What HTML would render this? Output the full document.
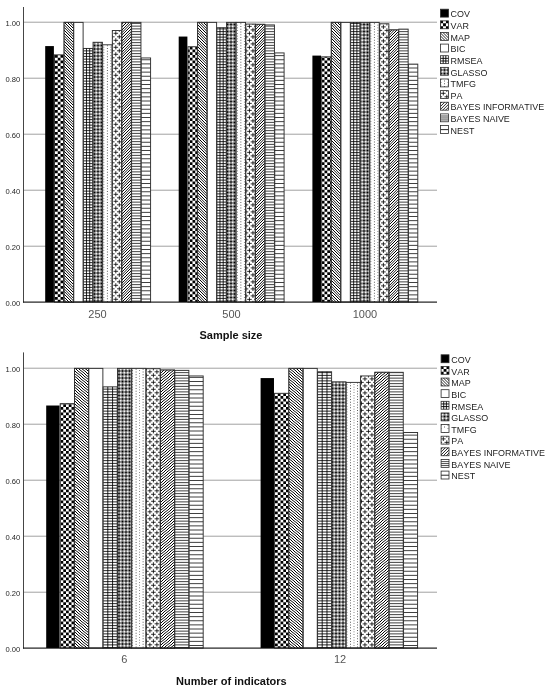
<!DOCTYPE html>
<html><head><meta charset="utf-8"><title>Chart</title><style>html,body{margin:0;padding:0;background:#fff}</style></head><body>
<svg width="550" height="693" viewBox="0 0 550 693" style="display:block;font-family:'Liberation Sans',Arial,sans-serif;font-kerning:none">
<defs>
<filter id="sharp_t" x="0" y="0" width="1" height="1" color-interpolation-filters="sRGB"><feConvolveMatrix order="3" kernelMatrix="0 -0.35 0 -0.35 2.4 -0.35 0 -0.35 0" preserveAlpha="true" edgeMode="duplicate"/></filter>
<filter id="sharp_b" x="0" y="0" width="1" height="1" color-interpolation-filters="sRGB"><feConvolveMatrix order="3" kernelMatrix="0 -0.2 0 -0.2 1.8 -0.2 0 -0.2 0" preserveAlpha="true" edgeMode="duplicate"/></filter>
<pattern id="var" width="11" height="11" patternUnits="userSpaceOnUse"><rect width="11" height="11" fill="#fff"/><rect x="0" y="0" width="2.75" height="2.75" fill="#000"/><rect x="0" y="5.5" width="2.75" height="2.75" fill="#000"/><rect x="2.75" y="2.75" width="2.75" height="2.75" fill="#000"/><rect x="2.75" y="8.25" width="2.75" height="2.75" fill="#000"/><rect x="5.5" y="0" width="2.75" height="2.75" fill="#000"/><rect x="5.5" y="5.5" width="2.75" height="2.75" fill="#000"/><rect x="8.25" y="2.75" width="2.75" height="2.75" fill="#000"/><rect x="8.25" y="8.25" width="2.75" height="2.75" fill="#000"/></pattern>
<pattern id="map" width="11" height="11" patternUnits="userSpaceOnUse"><rect width="11" height="11" fill="#fff"/><path d="M-1,-14.75 L12,-1.75 M-1,-12 L12,1 M-1,-9.25 L12,3.75 M-1,-6.5 L12,6.5 M-1,-3.75 L12,9.25 M-1,-1 L12,12 M-1,1.75 L12,14.75 M-1,4.5 L12,17.5 M-1,7.25 L12,20.25 M-1,10 L12,23 " stroke="#000" stroke-width="0.78" fill="none"/></pattern>
<pattern id="binf" width="11" height="11" patternUnits="userSpaceOnUse"><rect width="11" height="11" fill="#fff"/><path d="M-1,1 L12,-12 M-1,3.75 L12,-9.25 M-1,6.5 L12,-6.5 M-1,9.25 L12,-3.75 M-1,12 L12,-1 M-1,14.75 L12,1.75 M-1,17.5 L12,4.5 M-1,20.25 L12,7.25 M-1,23 L12,10 M-1,25.75 L12,12.75 " stroke="#000" stroke-width="0.78" fill="none"/></pattern>
<pattern id="rmsea" width="11" height="11" patternUnits="userSpaceOnUse"><rect width="11" height="11" fill="#fff"/><path d="M0,1.375 H11 M0,4.125 H11 M0,6.875 H11 M0,9.625 H11 " stroke="#000" stroke-width="0.85" fill="none"/></pattern>
<pattern id="rmseal" width="11" height="11" patternUnits="userSpaceOnUse"><rect width="11" height="11" fill="#fff"/><path d="M0,1.375 H11 M1.375,0 V11 M0,4.125 H11 M4.125,0 V11 M0,6.875 H11 M6.875,0 V11 M0,9.625 H11 M9.625,0 V11 " stroke="#000" stroke-width="0.85" fill="none"/></pattern>
<pattern id="glasso" width="7" height="7" patternUnits="userSpaceOnUse"><rect width="7" height="7" fill="#868686"/><path d="M0.000,-1.050 l1.050,1.050 l-1.050,1.050 l-1.050,-1.050 z M0.000,2.450 l1.050,1.050 l-1.050,1.050 l-1.050,-1.050 z M0.000,5.950 l1.050,1.050 l-1.050,1.050 l-1.050,-1.050 z M3.500,-1.050 l1.050,1.050 l-1.050,1.050 l-1.050,-1.050 z M3.500,2.450 l1.050,1.050 l-1.050,1.050 l-1.050,-1.050 z M3.500,5.950 l1.050,1.050 l-1.050,1.050 l-1.050,-1.050 z M7.000,-1.050 l1.050,1.050 l-1.050,1.050 l-1.050,-1.050 z M7.000,2.450 l1.050,1.050 l-1.050,1.050 l-1.050,-1.050 z M7.000,5.950 l1.050,1.050 l-1.050,1.050 l-1.050,-1.050 z " fill="#000"/><path d="M1.750,0.700 l1.050,1.050 l-1.050,1.050 l-1.050,-1.050 z M1.750,4.200 l1.050,1.050 l-1.050,1.050 l-1.050,-1.050 z M1.750,7.700 l1.050,1.050 l-1.050,1.050 l-1.050,-1.050 z M5.250,0.700 l1.050,1.050 l-1.050,1.050 l-1.050,-1.050 z M5.250,4.200 l1.050,1.050 l-1.050,1.050 l-1.050,-1.050 z M5.250,7.700 l1.050,1.050 l-1.050,1.050 l-1.050,-1.050 z M8.750,0.700 l1.050,1.050 l-1.050,1.050 l-1.050,-1.050 z M8.750,4.200 l1.050,1.050 l-1.050,1.050 l-1.050,-1.050 z M8.750,7.700 l1.050,1.050 l-1.050,1.050 l-1.050,-1.050 z " fill="#fff"/></pattern>
<pattern id="tmfg_t0" width="7" height="11" patternUnits="userSpaceOnUse"><rect width="7" height="11" fill="#fff"/><path d="M1.93,1.32 h0.85 v0.85 h-0.85 z M1.93,4.08 h0.85 v0.85 h-0.85 z M1.93,6.83 h0.85 v0.85 h-0.85 z M1.93,9.57 h0.85 v0.85 h-0.85 z M5.43,-0.05 h0.85 v0.85 h-0.85 z M5.43,2.70 h0.85 v0.85 h-0.85 z M5.43,5.45 h0.85 v0.85 h-0.85 z M5.43,8.20 h0.85 v0.85 h-0.85 z M5.43,10.95 h0.85 v0.85 h-0.85 z " fill="#444"/></pattern>
<pattern id="tmfg_t1" width="7" height="11" patternUnits="userSpaceOnUse"><rect width="7" height="11" fill="#fff"/><path d="M-1.06,-0.05 h0.85 v0.85 h-0.85 z M-1.06,2.70 h0.85 v0.85 h-0.85 z M-1.06,5.45 h0.85 v0.85 h-0.85 z M-1.06,8.20 h0.85 v0.85 h-0.85 z M-1.06,10.95 h0.85 v0.85 h-0.85 z M2.44,1.32 h0.85 v0.85 h-0.85 z M2.44,4.08 h0.85 v0.85 h-0.85 z M2.44,6.83 h0.85 v0.85 h-0.85 z M2.44,9.57 h0.85 v0.85 h-0.85 z M5.94,-0.05 h0.85 v0.85 h-0.85 z M5.94,2.70 h0.85 v0.85 h-0.85 z M5.94,5.45 h0.85 v0.85 h-0.85 z M5.94,8.20 h0.85 v0.85 h-0.85 z M5.94,10.95 h0.85 v0.85 h-0.85 z " fill="#444"/></pattern>
<pattern id="tmfg_t2" width="7" height="11" patternUnits="userSpaceOnUse"><rect width="7" height="11" fill="#fff"/><path d="M-0.56,-0.05 h0.85 v0.85 h-0.85 z M-0.56,2.70 h0.85 v0.85 h-0.85 z M-0.56,5.45 h0.85 v0.85 h-0.85 z M-0.56,8.20 h0.85 v0.85 h-0.85 z M-0.56,10.95 h0.85 v0.85 h-0.85 z M2.94,1.32 h0.85 v0.85 h-0.85 z M2.94,4.08 h0.85 v0.85 h-0.85 z M2.94,6.83 h0.85 v0.85 h-0.85 z M2.94,9.57 h0.85 v0.85 h-0.85 z M6.44,-0.05 h0.85 v0.85 h-0.85 z M6.44,2.70 h0.85 v0.85 h-0.85 z M6.44,5.45 h0.85 v0.85 h-0.85 z M6.44,8.20 h0.85 v0.85 h-0.85 z M6.44,10.95 h0.85 v0.85 h-0.85 z " fill="#444"/></pattern>
<pattern id="tmfg_b0" width="7" height="11" patternUnits="userSpaceOnUse"><rect width="7" height="11" fill="#fff"/><path d="M-0.83,-1.03 h0.85 v0.85 h-0.85 z M-0.83,1.72 h0.85 v0.85 h-0.85 z M-0.83,4.47 h0.85 v0.85 h-0.85 z M-0.83,7.22 h0.85 v0.85 h-0.85 z M-0.83,9.97 h0.85 v0.85 h-0.85 z M2.67,0.35 h0.85 v0.85 h-0.85 z M2.67,3.10 h0.85 v0.85 h-0.85 z M2.67,5.85 h0.85 v0.85 h-0.85 z M2.67,8.60 h0.85 v0.85 h-0.85 z M2.67,11.35 h0.85 v0.85 h-0.85 z M6.17,-1.03 h0.85 v0.85 h-0.85 z M6.17,1.72 h0.85 v0.85 h-0.85 z M6.17,4.47 h0.85 v0.85 h-0.85 z M6.17,7.22 h0.85 v0.85 h-0.85 z M6.17,9.97 h0.85 v0.85 h-0.85 z " fill="#444"/></pattern>
<pattern id="tmfg_b1" width="7" height="11" patternUnits="userSpaceOnUse"><rect width="7" height="11" fill="#fff"/><path d="M0.08,0.35 h0.85 v0.85 h-0.85 z M0.08,3.10 h0.85 v0.85 h-0.85 z M0.08,5.85 h0.85 v0.85 h-0.85 z M0.08,8.60 h0.85 v0.85 h-0.85 z M0.08,11.35 h0.85 v0.85 h-0.85 z M3.58,-1.03 h0.85 v0.85 h-0.85 z M3.58,1.72 h0.85 v0.85 h-0.85 z M3.58,4.47 h0.85 v0.85 h-0.85 z M3.58,7.22 h0.85 v0.85 h-0.85 z M3.58,9.97 h0.85 v0.85 h-0.85 z M7.08,0.35 h0.85 v0.85 h-0.85 z M7.08,3.10 h0.85 v0.85 h-0.85 z M7.08,5.85 h0.85 v0.85 h-0.85 z M7.08,8.60 h0.85 v0.85 h-0.85 z M7.08,11.35 h0.85 v0.85 h-0.85 z " fill="#444"/></pattern>
<pattern id="tmfg_tL" width="7" height="11" patternUnits="userSpaceOnUse"><rect width="7" height="11" fill="#fff"/><path d="M-0.42,-0.55 h0.85 v0.85 h-0.85 z M-0.42,2.20 h0.85 v0.85 h-0.85 z M-0.42,4.95 h0.85 v0.85 h-0.85 z M-0.42,7.70 h0.85 v0.85 h-0.85 z M-0.42,10.45 h0.85 v0.85 h-0.85 z M3.08,0.82 h0.85 v0.85 h-0.85 z M3.08,3.58 h0.85 v0.85 h-0.85 z M3.08,6.33 h0.85 v0.85 h-0.85 z M3.08,9.07 h0.85 v0.85 h-0.85 z M6.58,-0.55 h0.85 v0.85 h-0.85 z M6.58,2.20 h0.85 v0.85 h-0.85 z M6.58,4.95 h0.85 v0.85 h-0.85 z M6.58,7.70 h0.85 v0.85 h-0.85 z M6.58,10.45 h0.85 v0.85 h-0.85 z " fill="#444"/></pattern>
<pattern id="tmfg_bL" width="7" height="11" patternUnits="userSpaceOnUse"><rect width="7" height="11" fill="#fff"/><path d="M-0.42,4.45 h0.85 v0.85 h-0.85 z M-0.42,7.20 h0.85 v0.85 h-0.85 z M-0.42,9.95 h0.85 v0.85 h-0.85 z M3.08,3.08 h0.85 v0.85 h-0.85 z M3.08,5.83 h0.85 v0.85 h-0.85 z M3.08,8.57 h0.85 v0.85 h-0.85 z M3.08,11.32 h0.85 v0.85 h-0.85 z M6.58,4.45 h0.85 v0.85 h-0.85 z M6.58,7.20 h0.85 v0.85 h-0.85 z M6.58,9.95 h0.85 v0.85 h-0.85 z " fill="#444"/></pattern>
<pattern id="pa_t0" width="7" height="7" patternUnits="userSpaceOnUse"><rect width="7" height="7" fill="#fff"/><path d="M-2.00,1.80 h4.60 M0.30,-0.30 v4.20 M-2.00,8.80 h4.60 M0.30,6.70 v4.20 M1.50,-1.70 h4.60 M3.80,-3.80 v4.20 M5.00,1.80 h4.60 M7.30,-0.30 v4.20 M1.50,5.30 h4.60 M3.80,3.20 v4.20 M5.00,8.80 h4.60 M7.30,6.70 v4.20 " stroke="#000" stroke-width="0.8" fill="none"/></pattern>
<pattern id="pa_t1" width="7" height="7" patternUnits="userSpaceOnUse"><rect width="7" height="7" fill="#fff"/><path d="M-4.85,-1.60 h4.60 M-2.55,-3.70 v4.20 M-1.35,1.90 h4.60 M0.95,-0.20 v4.20 M-4.85,5.40 h4.60 M-2.55,3.30 v4.20 M-1.35,8.90 h4.60 M0.95,6.80 v4.20 M2.15,-1.60 h4.60 M4.45,-3.70 v4.20 M5.65,1.90 h4.60 M7.95,-0.20 v4.20 M2.15,5.40 h4.60 M4.45,3.30 v4.20 M5.65,8.90 h4.60 M7.95,6.80 v4.20 " stroke="#000" stroke-width="0.8" fill="none"/></pattern>
<pattern id="pa_t2" width="7" height="7" patternUnits="userSpaceOnUse"><rect width="7" height="7" fill="#fff"/><path d="M-3.90,-1.10 h4.60 M-1.60,-3.20 v4.20 M-0.40,2.40 h4.60 M1.90,0.30 v4.20 M-3.90,5.90 h4.60 M-1.60,3.80 v4.20 M-0.40,9.40 h4.60 M1.90,7.30 v4.20 M3.10,-1.10 h4.60 M5.40,-3.20 v4.20 M6.60,2.40 h4.60 M8.90,0.30 v4.20 M3.10,5.90 h4.60 M5.40,3.80 v4.20 M6.60,9.40 h4.60 M8.90,7.30 v4.20 " stroke="#000" stroke-width="0.8" fill="none"/></pattern>
<pattern id="pa_b0" width="7" height="7" patternUnits="userSpaceOnUse"><rect width="7" height="7" fill="#fff"/><path d="M-2.90,-2.70 h4.60 M-0.60,-4.80 v4.20 M0.60,0.80 h4.60 M2.90,-1.30 v4.20 M-2.90,4.30 h4.60 M-0.60,2.20 v4.20 M0.60,7.80 h4.60 M2.90,5.70 v4.20 M4.10,-2.70 h4.60 M6.40,-4.80 v4.20 M7.60,0.80 h4.60 M9.90,-1.30 v4.20 M4.10,4.30 h4.60 M6.40,2.20 v4.20 M7.60,7.80 h4.60 M9.90,5.70 v4.20 " stroke="#000" stroke-width="0.8" fill="none"/></pattern>
<pattern id="pa_b1" width="7" height="7" patternUnits="userSpaceOnUse"><rect width="7" height="7" fill="#fff"/><path d="M-4.85,-2.60 h4.60 M-2.55,-4.70 v4.20 M-1.35,0.90 h4.60 M0.95,-1.20 v4.20 M-4.85,4.40 h4.60 M-2.55,2.30 v4.20 M-1.35,7.90 h4.60 M0.95,5.80 v4.20 M2.15,-2.60 h4.60 M4.45,-4.70 v4.20 M5.65,0.90 h4.60 M7.95,-1.20 v4.20 M2.15,4.40 h4.60 M4.45,2.30 v4.20 M5.65,7.90 h4.60 M7.95,5.80 v4.20 " stroke="#000" stroke-width="0.8" fill="none"/></pattern>
<pattern id="pa_tL" width="7" height="7" patternUnits="userSpaceOnUse"><rect width="7" height="7" fill="#fff"/><path d="M-3.50,-1.20 h4.60 M-1.20,-3.30 v4.20 M-3.50,5.80 h4.60 M-1.20,3.70 v4.20 M3.50,-1.20 h4.60 M5.80,-3.30 v4.20 M0.00,2.30 h4.60 M2.30,0.20 v4.20 M3.50,5.80 h4.60 M5.80,3.70 v4.20 M0.00,9.30 h4.60 M2.30,7.20 v4.20 M7.00,2.30 h4.60 M9.30,0.20 v4.20 M7.00,9.30 h4.60 M9.30,7.20 v4.20 " stroke="#000" stroke-width="0.8" fill="none"/></pattern>
<pattern id="pa_bL" width="7" height="7" patternUnits="userSpaceOnUse"><rect width="7" height="7" fill="#fff"/><path d="M-3.50,1.40 h4.60 M-1.20,-0.70 v4.20 M-3.50,8.40 h4.60 M-1.20,6.30 v4.20 M0.00,-2.10 h4.60 M2.30,-4.20 v4.20 M3.50,1.40 h4.60 M5.80,-0.70 v4.20 M0.00,4.90 h4.60 M2.30,2.80 v4.20 M3.50,8.40 h4.60 M5.80,6.30 v4.20 M7.00,-2.10 h4.60 M9.30,-4.20 v4.20 M7.00,4.90 h4.60 M9.30,2.80 v4.20 " stroke="#000" stroke-width="0.8" fill="none"/></pattern>
<pattern id="bnaive" width="11" height="11" patternUnits="userSpaceOnUse"><rect width="11" height="11" fill="#fff"/><path d="M0,1.375 H11 M0,4.125 H11 M0,6.875 H11 M0,9.625 H11 " stroke="#000" stroke-width="0.75" fill="none"/></pattern>
<pattern id="nest" width="33" height="33" patternUnits="userSpaceOnUse"><rect width="33" height="33" fill="#fff"/><path d="M0,2 H33 M0,6.125 H33 M0,10.25 H33 M0,14.375 H33 M0,18.5 H33 M0,22.625 H33 M0,26.75 H33 M0,30.875 H33 " stroke="#000" stroke-width="0.75" fill="none"/></pattern>
</defs>
<rect width="550" height="693" fill="#fff"/>
<rect x="23.50" y="245.70" width="413.50" height="1" fill="#a2a2a2"/>
<rect x="23.50" y="189.70" width="413.50" height="1" fill="#a2a2a2"/>
<rect x="23.50" y="133.70" width="413.50" height="1" fill="#a2a2a2"/>
<rect x="23.50" y="77.70" width="413.50" height="1" fill="#a2a2a2"/>
<rect x="23.50" y="21.70" width="413.50" height="1" fill="#a2a2a2"/>
<rect x="45.20" y="46.08" width="8.69" height="255.92" fill="#000"/>
<rect x="54.49" y="54.88" width="9.34" height="247.12" fill="url(#var)" stroke="#303030" stroke-width="0.95"/>
<rect x="64.13" y="22.40" width="9.34" height="279.60" fill="#fff" stroke="#303030" stroke-width="0.95"/>
<clipPath id="c_t02"><rect x="64.13" y="22.40" width="9.34" height="279.60"/></clipPath>
<g clip-path="url(#c_t02)"><g filter="url(#sharp_t)"><rect x="61.98" y="20.00" width="13.64" height="284.00" fill="#fff"/><path d="M63.98,316.00 l9.64,9.82 M63.98,313.25 l9.64,9.82 M63.98,310.50 l9.64,9.82 M63.98,307.75 l9.64,9.82 M63.98,305.00 l9.64,9.82 M63.98,302.25 l9.64,9.82 M63.98,299.50 l9.64,9.82 M63.98,296.75 l9.64,9.82 M63.98,294.00 l9.64,9.82 M63.98,291.25 l9.64,9.82 M63.98,288.50 l9.64,9.82 M63.98,285.75 l9.64,9.82 M63.98,283.00 l9.64,9.82 M63.98,280.25 l9.64,9.82 M63.98,277.50 l9.64,9.82 M63.98,274.75 l9.64,9.82 M63.98,272.00 l9.64,9.82 M63.98,269.25 l9.64,9.82 M63.98,266.50 l9.64,9.82 M63.98,263.75 l9.64,9.82 M63.98,261.00 l9.64,9.82 M63.98,258.25 l9.64,9.82 M63.98,255.50 l9.64,9.82 M63.98,252.75 l9.64,9.82 M63.98,250.00 l9.64,9.82 M63.98,247.25 l9.64,9.82 M63.98,244.50 l9.64,9.82 M63.98,241.75 l9.64,9.82 M63.98,239.00 l9.64,9.82 M63.98,236.25 l9.64,9.82 M63.98,233.50 l9.64,9.82 M63.98,230.75 l9.64,9.82 M63.98,228.00 l9.64,9.82 M63.98,225.25 l9.64,9.82 M63.98,222.50 l9.64,9.82 M63.98,219.75 l9.64,9.82 M63.98,217.00 l9.64,9.82 M63.98,214.25 l9.64,9.82 M63.98,211.50 l9.64,9.82 M63.98,208.75 l9.64,9.82 M63.98,206.00 l9.64,9.82 M63.98,203.25 l9.64,9.82 M63.98,200.50 l9.64,9.82 M63.98,197.75 l9.64,9.82 M63.98,195.00 l9.64,9.82 M63.98,192.25 l9.64,9.82 M63.98,189.50 l9.64,9.82 M63.98,186.75 l9.64,9.82 M63.98,184.00 l9.64,9.82 M63.98,181.25 l9.64,9.82 M63.98,178.50 l9.64,9.82 M63.98,175.75 l9.64,9.82 M63.98,173.00 l9.64,9.82 M63.98,170.25 l9.64,9.82 M63.98,167.50 l9.64,9.82 M63.98,164.75 l9.64,9.82 M63.98,162.00 l9.64,9.82 M63.98,159.25 l9.64,9.82 M63.98,156.50 l9.64,9.82 M63.98,153.75 l9.64,9.82 M63.98,151.00 l9.64,9.82 M63.98,148.25 l9.64,9.82 M63.98,145.50 l9.64,9.82 M63.98,142.75 l9.64,9.82 M63.98,140.00 l9.64,9.82 M63.98,137.25 l9.64,9.82 M63.98,134.50 l9.64,9.82 M63.98,131.75 l9.64,9.82 M63.98,129.00 l9.64,9.82 M63.98,126.25 l9.64,9.82 M63.98,123.50 l9.64,9.82 M63.98,120.75 l9.64,9.82 M63.98,118.00 l9.64,9.82 M63.98,115.25 l9.64,9.82 M63.98,112.50 l9.64,9.82 M63.98,109.75 l9.64,9.82 M63.98,107.00 l9.64,9.82 M63.98,104.25 l9.64,9.82 M63.98,101.50 l9.64,9.82 M63.98,98.75 l9.64,9.82 M63.98,96.00 l9.64,9.82 M63.98,93.25 l9.64,9.82 M63.98,90.50 l9.64,9.82 M63.98,87.75 l9.64,9.82 M63.98,85.00 l9.64,9.82 M63.98,82.25 l9.64,9.82 M63.98,79.50 l9.64,9.82 M63.98,76.75 l9.64,9.82 M63.98,74.00 l9.64,9.82 M63.98,71.25 l9.64,9.82 M63.98,68.50 l9.64,9.82 M63.98,65.75 l9.64,9.82 M63.98,63.00 l9.64,9.82 M63.98,60.25 l9.64,9.82 M63.98,57.50 l9.64,9.82 M63.98,54.75 l9.64,9.82 M63.98,52.00 l9.64,9.82 M63.98,49.25 l9.64,9.82 M63.98,46.50 l9.64,9.82 M63.98,43.75 l9.64,9.82 M63.98,41.00 l9.64,9.82 M63.98,38.25 l9.64,9.82 M63.98,35.50 l9.64,9.82 M63.98,32.75 l9.64,9.82 M63.98,30.00 l9.64,9.82 M63.98,27.25 l9.64,9.82 M63.98,24.50 l9.64,9.82 M63.98,21.75 l9.64,9.82 M63.98,19.00 l9.64,9.82 M63.98,16.25 l9.64,9.82 M63.98,13.50 l9.64,9.82 M63.98,10.75 l9.64,9.82 " stroke="#000" stroke-width="0.55" fill="none"/></g></g>
<rect x="64.13" y="22.40" width="9.34" height="279.60" fill="none" stroke="#303030" stroke-width="0.95"/>
<rect x="73.77" y="22.40" width="9.34" height="279.60" fill="#fff" stroke="#303030" stroke-width="0.95"/>
<rect x="83.41" y="48.44" width="9.34" height="253.56" fill="url(#rmsea)" stroke="#303030" stroke-width="0.95"/>
<path d="M86.47,48.44 V302.00 M89.69,48.44 V302.00" stroke="#000" stroke-width="0.85"/>
<rect x="93.05" y="42.28" width="9.34" height="259.72" fill="url(#glasso)" stroke="#303030" stroke-width="0.95"/>
<rect x="102.69" y="44.80" width="9.34" height="257.20" fill="url(#tmfg_t0)" stroke="#303030" stroke-width="0.95"/>
<rect x="112.33" y="30.52" width="9.34" height="271.48" fill="url(#pa_t0)" stroke="#303030" stroke-width="0.95"/>
<rect x="121.97" y="22.40" width="9.34" height="279.60" fill="#fff" stroke="#303030" stroke-width="0.95"/>
<clipPath id="c_t08"><rect x="121.97" y="22.40" width="9.34" height="279.60"/></clipPath>
<g clip-path="url(#c_t08)"><g filter="url(#sharp_t)"><rect x="119.82" y="20.00" width="13.64" height="284.00" fill="#fff"/><path d="M121.82,316.00 l9.64,-9.82 M121.82,313.25 l9.64,-9.82 M121.82,310.50 l9.64,-9.82 M121.82,307.75 l9.64,-9.82 M121.82,305.00 l9.64,-9.82 M121.82,302.25 l9.64,-9.82 M121.82,299.50 l9.64,-9.82 M121.82,296.75 l9.64,-9.82 M121.82,294.00 l9.64,-9.82 M121.82,291.25 l9.64,-9.82 M121.82,288.50 l9.64,-9.82 M121.82,285.75 l9.64,-9.82 M121.82,283.00 l9.64,-9.82 M121.82,280.25 l9.64,-9.82 M121.82,277.50 l9.64,-9.82 M121.82,274.75 l9.64,-9.82 M121.82,272.00 l9.64,-9.82 M121.82,269.25 l9.64,-9.82 M121.82,266.50 l9.64,-9.82 M121.82,263.75 l9.64,-9.82 M121.82,261.00 l9.64,-9.82 M121.82,258.25 l9.64,-9.82 M121.82,255.50 l9.64,-9.82 M121.82,252.75 l9.64,-9.82 M121.82,250.00 l9.64,-9.82 M121.82,247.25 l9.64,-9.82 M121.82,244.50 l9.64,-9.82 M121.82,241.75 l9.64,-9.82 M121.82,239.00 l9.64,-9.82 M121.82,236.25 l9.64,-9.82 M121.82,233.50 l9.64,-9.82 M121.82,230.75 l9.64,-9.82 M121.82,228.00 l9.64,-9.82 M121.82,225.25 l9.64,-9.82 M121.82,222.50 l9.64,-9.82 M121.82,219.75 l9.64,-9.82 M121.82,217.00 l9.64,-9.82 M121.82,214.25 l9.64,-9.82 M121.82,211.50 l9.64,-9.82 M121.82,208.75 l9.64,-9.82 M121.82,206.00 l9.64,-9.82 M121.82,203.25 l9.64,-9.82 M121.82,200.50 l9.64,-9.82 M121.82,197.75 l9.64,-9.82 M121.82,195.00 l9.64,-9.82 M121.82,192.25 l9.64,-9.82 M121.82,189.50 l9.64,-9.82 M121.82,186.75 l9.64,-9.82 M121.82,184.00 l9.64,-9.82 M121.82,181.25 l9.64,-9.82 M121.82,178.50 l9.64,-9.82 M121.82,175.75 l9.64,-9.82 M121.82,173.00 l9.64,-9.82 M121.82,170.25 l9.64,-9.82 M121.82,167.50 l9.64,-9.82 M121.82,164.75 l9.64,-9.82 M121.82,162.00 l9.64,-9.82 M121.82,159.25 l9.64,-9.82 M121.82,156.50 l9.64,-9.82 M121.82,153.75 l9.64,-9.82 M121.82,151.00 l9.64,-9.82 M121.82,148.25 l9.64,-9.82 M121.82,145.50 l9.64,-9.82 M121.82,142.75 l9.64,-9.82 M121.82,140.00 l9.64,-9.82 M121.82,137.25 l9.64,-9.82 M121.82,134.50 l9.64,-9.82 M121.82,131.75 l9.64,-9.82 M121.82,129.00 l9.64,-9.82 M121.82,126.25 l9.64,-9.82 M121.82,123.50 l9.64,-9.82 M121.82,120.75 l9.64,-9.82 M121.82,118.00 l9.64,-9.82 M121.82,115.25 l9.64,-9.82 M121.82,112.50 l9.64,-9.82 M121.82,109.75 l9.64,-9.82 M121.82,107.00 l9.64,-9.82 M121.82,104.25 l9.64,-9.82 M121.82,101.50 l9.64,-9.82 M121.82,98.75 l9.64,-9.82 M121.82,96.00 l9.64,-9.82 M121.82,93.25 l9.64,-9.82 M121.82,90.50 l9.64,-9.82 M121.82,87.75 l9.64,-9.82 M121.82,85.00 l9.64,-9.82 M121.82,82.25 l9.64,-9.82 M121.82,79.50 l9.64,-9.82 M121.82,76.75 l9.64,-9.82 M121.82,74.00 l9.64,-9.82 M121.82,71.25 l9.64,-9.82 M121.82,68.50 l9.64,-9.82 M121.82,65.75 l9.64,-9.82 M121.82,63.00 l9.64,-9.82 M121.82,60.25 l9.64,-9.82 M121.82,57.50 l9.64,-9.82 M121.82,54.75 l9.64,-9.82 M121.82,52.00 l9.64,-9.82 M121.82,49.25 l9.64,-9.82 M121.82,46.50 l9.64,-9.82 M121.82,43.75 l9.64,-9.82 M121.82,41.00 l9.64,-9.82 M121.82,38.25 l9.64,-9.82 M121.82,35.50 l9.64,-9.82 M121.82,32.75 l9.64,-9.82 M121.82,30.00 l9.64,-9.82 M121.82,27.25 l9.64,-9.82 M121.82,24.50 l9.64,-9.82 M121.82,21.75 l9.64,-9.82 M121.82,19.00 l9.64,-9.82 M121.82,16.25 l9.64,-9.82 M121.82,13.50 l9.64,-9.82 M121.82,10.75 l9.64,-9.82 " stroke="#000" stroke-width="0.55" fill="none"/></g></g>
<rect x="121.97" y="22.40" width="9.34" height="279.60" fill="none" stroke="#303030" stroke-width="0.95"/>
<rect x="131.61" y="22.40" width="9.34" height="279.60" fill="url(#bnaive)" stroke="#303030" stroke-width="0.95"/>
<rect x="141.25" y="57.96" width="9.34" height="244.04" fill="url(#nest)" stroke="#303030" stroke-width="0.95"/>
<rect x="178.70" y="36.56" width="8.69" height="265.44" fill="#000"/>
<rect x="187.99" y="46.76" width="9.34" height="255.24" fill="url(#var)" stroke="#303030" stroke-width="0.95"/>
<rect x="197.63" y="22.40" width="9.34" height="279.60" fill="#fff" stroke="#303030" stroke-width="0.95"/>
<clipPath id="c_t12"><rect x="197.63" y="22.40" width="9.34" height="279.60"/></clipPath>
<g clip-path="url(#c_t12)"><g filter="url(#sharp_t)"><rect x="195.48" y="20.00" width="13.64" height="284.00" fill="#fff"/><path d="M197.48,316.00 l9.64,9.82 M197.48,313.25 l9.64,9.82 M197.48,310.50 l9.64,9.82 M197.48,307.75 l9.64,9.82 M197.48,305.00 l9.64,9.82 M197.48,302.25 l9.64,9.82 M197.48,299.50 l9.64,9.82 M197.48,296.75 l9.64,9.82 M197.48,294.00 l9.64,9.82 M197.48,291.25 l9.64,9.82 M197.48,288.50 l9.64,9.82 M197.48,285.75 l9.64,9.82 M197.48,283.00 l9.64,9.82 M197.48,280.25 l9.64,9.82 M197.48,277.50 l9.64,9.82 M197.48,274.75 l9.64,9.82 M197.48,272.00 l9.64,9.82 M197.48,269.25 l9.64,9.82 M197.48,266.50 l9.64,9.82 M197.48,263.75 l9.64,9.82 M197.48,261.00 l9.64,9.82 M197.48,258.25 l9.64,9.82 M197.48,255.50 l9.64,9.82 M197.48,252.75 l9.64,9.82 M197.48,250.00 l9.64,9.82 M197.48,247.25 l9.64,9.82 M197.48,244.50 l9.64,9.82 M197.48,241.75 l9.64,9.82 M197.48,239.00 l9.64,9.82 M197.48,236.25 l9.64,9.82 M197.48,233.50 l9.64,9.82 M197.48,230.75 l9.64,9.82 M197.48,228.00 l9.64,9.82 M197.48,225.25 l9.64,9.82 M197.48,222.50 l9.64,9.82 M197.48,219.75 l9.64,9.82 M197.48,217.00 l9.64,9.82 M197.48,214.25 l9.64,9.82 M197.48,211.50 l9.64,9.82 M197.48,208.75 l9.64,9.82 M197.48,206.00 l9.64,9.82 M197.48,203.25 l9.64,9.82 M197.48,200.50 l9.64,9.82 M197.48,197.75 l9.64,9.82 M197.48,195.00 l9.64,9.82 M197.48,192.25 l9.64,9.82 M197.48,189.50 l9.64,9.82 M197.48,186.75 l9.64,9.82 M197.48,184.00 l9.64,9.82 M197.48,181.25 l9.64,9.82 M197.48,178.50 l9.64,9.82 M197.48,175.75 l9.64,9.82 M197.48,173.00 l9.64,9.82 M197.48,170.25 l9.64,9.82 M197.48,167.50 l9.64,9.82 M197.48,164.75 l9.64,9.82 M197.48,162.00 l9.64,9.82 M197.48,159.25 l9.64,9.82 M197.48,156.50 l9.64,9.82 M197.48,153.75 l9.64,9.82 M197.48,151.00 l9.64,9.82 M197.48,148.25 l9.64,9.82 M197.48,145.50 l9.64,9.82 M197.48,142.75 l9.64,9.82 M197.48,140.00 l9.64,9.82 M197.48,137.25 l9.64,9.82 M197.48,134.50 l9.64,9.82 M197.48,131.75 l9.64,9.82 M197.48,129.00 l9.64,9.82 M197.48,126.25 l9.64,9.82 M197.48,123.50 l9.64,9.82 M197.48,120.75 l9.64,9.82 M197.48,118.00 l9.64,9.82 M197.48,115.25 l9.64,9.82 M197.48,112.50 l9.64,9.82 M197.48,109.75 l9.64,9.82 M197.48,107.00 l9.64,9.82 M197.48,104.25 l9.64,9.82 M197.48,101.50 l9.64,9.82 M197.48,98.75 l9.64,9.82 M197.48,96.00 l9.64,9.82 M197.48,93.25 l9.64,9.82 M197.48,90.50 l9.64,9.82 M197.48,87.75 l9.64,9.82 M197.48,85.00 l9.64,9.82 M197.48,82.25 l9.64,9.82 M197.48,79.50 l9.64,9.82 M197.48,76.75 l9.64,9.82 M197.48,74.00 l9.64,9.82 M197.48,71.25 l9.64,9.82 M197.48,68.50 l9.64,9.82 M197.48,65.75 l9.64,9.82 M197.48,63.00 l9.64,9.82 M197.48,60.25 l9.64,9.82 M197.48,57.50 l9.64,9.82 M197.48,54.75 l9.64,9.82 M197.48,52.00 l9.64,9.82 M197.48,49.25 l9.64,9.82 M197.48,46.50 l9.64,9.82 M197.48,43.75 l9.64,9.82 M197.48,41.00 l9.64,9.82 M197.48,38.25 l9.64,9.82 M197.48,35.50 l9.64,9.82 M197.48,32.75 l9.64,9.82 M197.48,30.00 l9.64,9.82 M197.48,27.25 l9.64,9.82 M197.48,24.50 l9.64,9.82 M197.48,21.75 l9.64,9.82 M197.48,19.00 l9.64,9.82 M197.48,16.25 l9.64,9.82 M197.48,13.50 l9.64,9.82 M197.48,10.75 l9.64,9.82 " stroke="#000" stroke-width="0.55" fill="none"/></g></g>
<rect x="197.63" y="22.40" width="9.34" height="279.60" fill="none" stroke="#303030" stroke-width="0.95"/>
<rect x="207.27" y="22.40" width="9.34" height="279.60" fill="#fff" stroke="#303030" stroke-width="0.95"/>
<rect x="216.91" y="27.72" width="9.34" height="274.28" fill="url(#rmsea)" stroke="#303030" stroke-width="0.95"/>
<path d="M219.97,27.72 V302.00 M223.19,27.72 V302.00" stroke="#000" stroke-width="0.85"/>
<rect x="226.55" y="22.40" width="9.34" height="279.60" fill="url(#glasso)" stroke="#303030" stroke-width="0.95"/>
<rect x="236.19" y="22.40" width="9.34" height="279.60" fill="url(#tmfg_t1)" stroke="#303030" stroke-width="0.95"/>
<rect x="245.83" y="24.08" width="9.34" height="277.92" fill="url(#pa_t1)" stroke="#303030" stroke-width="0.95"/>
<rect x="255.47" y="24.36" width="9.34" height="277.64" fill="#fff" stroke="#303030" stroke-width="0.95"/>
<clipPath id="c_t18"><rect x="255.47" y="24.36" width="9.34" height="277.64"/></clipPath>
<g clip-path="url(#c_t18)"><g filter="url(#sharp_t)"><rect x="253.32" y="21.96" width="13.64" height="282.04" fill="#fff"/><path d="M255.32,316.00 l9.64,-9.82 M255.32,313.25 l9.64,-9.82 M255.32,310.50 l9.64,-9.82 M255.32,307.75 l9.64,-9.82 M255.32,305.00 l9.64,-9.82 M255.32,302.25 l9.64,-9.82 M255.32,299.50 l9.64,-9.82 M255.32,296.75 l9.64,-9.82 M255.32,294.00 l9.64,-9.82 M255.32,291.25 l9.64,-9.82 M255.32,288.50 l9.64,-9.82 M255.32,285.75 l9.64,-9.82 M255.32,283.00 l9.64,-9.82 M255.32,280.25 l9.64,-9.82 M255.32,277.50 l9.64,-9.82 M255.32,274.75 l9.64,-9.82 M255.32,272.00 l9.64,-9.82 M255.32,269.25 l9.64,-9.82 M255.32,266.50 l9.64,-9.82 M255.32,263.75 l9.64,-9.82 M255.32,261.00 l9.64,-9.82 M255.32,258.25 l9.64,-9.82 M255.32,255.50 l9.64,-9.82 M255.32,252.75 l9.64,-9.82 M255.32,250.00 l9.64,-9.82 M255.32,247.25 l9.64,-9.82 M255.32,244.50 l9.64,-9.82 M255.32,241.75 l9.64,-9.82 M255.32,239.00 l9.64,-9.82 M255.32,236.25 l9.64,-9.82 M255.32,233.50 l9.64,-9.82 M255.32,230.75 l9.64,-9.82 M255.32,228.00 l9.64,-9.82 M255.32,225.25 l9.64,-9.82 M255.32,222.50 l9.64,-9.82 M255.32,219.75 l9.64,-9.82 M255.32,217.00 l9.64,-9.82 M255.32,214.25 l9.64,-9.82 M255.32,211.50 l9.64,-9.82 M255.32,208.75 l9.64,-9.82 M255.32,206.00 l9.64,-9.82 M255.32,203.25 l9.64,-9.82 M255.32,200.50 l9.64,-9.82 M255.32,197.75 l9.64,-9.82 M255.32,195.00 l9.64,-9.82 M255.32,192.25 l9.64,-9.82 M255.32,189.50 l9.64,-9.82 M255.32,186.75 l9.64,-9.82 M255.32,184.00 l9.64,-9.82 M255.32,181.25 l9.64,-9.82 M255.32,178.50 l9.64,-9.82 M255.32,175.75 l9.64,-9.82 M255.32,173.00 l9.64,-9.82 M255.32,170.25 l9.64,-9.82 M255.32,167.50 l9.64,-9.82 M255.32,164.75 l9.64,-9.82 M255.32,162.00 l9.64,-9.82 M255.32,159.25 l9.64,-9.82 M255.32,156.50 l9.64,-9.82 M255.32,153.75 l9.64,-9.82 M255.32,151.00 l9.64,-9.82 M255.32,148.25 l9.64,-9.82 M255.32,145.50 l9.64,-9.82 M255.32,142.75 l9.64,-9.82 M255.32,140.00 l9.64,-9.82 M255.32,137.25 l9.64,-9.82 M255.32,134.50 l9.64,-9.82 M255.32,131.75 l9.64,-9.82 M255.32,129.00 l9.64,-9.82 M255.32,126.25 l9.64,-9.82 M255.32,123.50 l9.64,-9.82 M255.32,120.75 l9.64,-9.82 M255.32,118.00 l9.64,-9.82 M255.32,115.25 l9.64,-9.82 M255.32,112.50 l9.64,-9.82 M255.32,109.75 l9.64,-9.82 M255.32,107.00 l9.64,-9.82 M255.32,104.25 l9.64,-9.82 M255.32,101.50 l9.64,-9.82 M255.32,98.75 l9.64,-9.82 M255.32,96.00 l9.64,-9.82 M255.32,93.25 l9.64,-9.82 M255.32,90.50 l9.64,-9.82 M255.32,87.75 l9.64,-9.82 M255.32,85.00 l9.64,-9.82 M255.32,82.25 l9.64,-9.82 M255.32,79.50 l9.64,-9.82 M255.32,76.75 l9.64,-9.82 M255.32,74.00 l9.64,-9.82 M255.32,71.25 l9.64,-9.82 M255.32,68.50 l9.64,-9.82 M255.32,65.75 l9.64,-9.82 M255.32,63.00 l9.64,-9.82 M255.32,60.25 l9.64,-9.82 M255.32,57.50 l9.64,-9.82 M255.32,54.75 l9.64,-9.82 M255.32,52.00 l9.64,-9.82 M255.32,49.25 l9.64,-9.82 M255.32,46.50 l9.64,-9.82 M255.32,43.75 l9.64,-9.82 M255.32,41.00 l9.64,-9.82 M255.32,38.25 l9.64,-9.82 M255.32,35.50 l9.64,-9.82 M255.32,32.75 l9.64,-9.82 M255.32,30.00 l9.64,-9.82 M255.32,27.25 l9.64,-9.82 M255.32,24.50 l9.64,-9.82 M255.32,21.75 l9.64,-9.82 M255.32,19.00 l9.64,-9.82 M255.32,16.25 l9.64,-9.82 M255.32,13.50 l9.64,-9.82 M255.32,10.75 l9.64,-9.82 " stroke="#000" stroke-width="0.55" fill="none"/></g></g>
<rect x="255.47" y="24.36" width="9.34" height="277.64" fill="none" stroke="#303030" stroke-width="0.95"/>
<rect x="265.11" y="24.92" width="9.34" height="277.08" fill="url(#bnaive)" stroke="#303030" stroke-width="0.95"/>
<rect x="274.75" y="52.92" width="9.34" height="249.08" fill="url(#nest)" stroke="#303030" stroke-width="0.95"/>
<rect x="312.40" y="55.60" width="8.69" height="246.40" fill="#000"/>
<rect x="321.69" y="56.84" width="9.34" height="245.16" fill="url(#var)" stroke="#303030" stroke-width="0.95"/>
<rect x="331.33" y="22.40" width="9.34" height="279.60" fill="#fff" stroke="#303030" stroke-width="0.95"/>
<clipPath id="c_t22"><rect x="331.33" y="22.40" width="9.34" height="279.60"/></clipPath>
<g clip-path="url(#c_t22)"><g filter="url(#sharp_t)"><rect x="329.18" y="20.00" width="13.64" height="284.00" fill="#fff"/><path d="M331.18,316.00 l9.64,9.82 M331.18,313.25 l9.64,9.82 M331.18,310.50 l9.64,9.82 M331.18,307.75 l9.64,9.82 M331.18,305.00 l9.64,9.82 M331.18,302.25 l9.64,9.82 M331.18,299.50 l9.64,9.82 M331.18,296.75 l9.64,9.82 M331.18,294.00 l9.64,9.82 M331.18,291.25 l9.64,9.82 M331.18,288.50 l9.64,9.82 M331.18,285.75 l9.64,9.82 M331.18,283.00 l9.64,9.82 M331.18,280.25 l9.64,9.82 M331.18,277.50 l9.64,9.82 M331.18,274.75 l9.64,9.82 M331.18,272.00 l9.64,9.82 M331.18,269.25 l9.64,9.82 M331.18,266.50 l9.64,9.82 M331.18,263.75 l9.64,9.82 M331.18,261.00 l9.64,9.82 M331.18,258.25 l9.64,9.82 M331.18,255.50 l9.64,9.82 M331.18,252.75 l9.64,9.82 M331.18,250.00 l9.64,9.82 M331.18,247.25 l9.64,9.82 M331.18,244.50 l9.64,9.82 M331.18,241.75 l9.64,9.82 M331.18,239.00 l9.64,9.82 M331.18,236.25 l9.64,9.82 M331.18,233.50 l9.64,9.82 M331.18,230.75 l9.64,9.82 M331.18,228.00 l9.64,9.82 M331.18,225.25 l9.64,9.82 M331.18,222.50 l9.64,9.82 M331.18,219.75 l9.64,9.82 M331.18,217.00 l9.64,9.82 M331.18,214.25 l9.64,9.82 M331.18,211.50 l9.64,9.82 M331.18,208.75 l9.64,9.82 M331.18,206.00 l9.64,9.82 M331.18,203.25 l9.64,9.82 M331.18,200.50 l9.64,9.82 M331.18,197.75 l9.64,9.82 M331.18,195.00 l9.64,9.82 M331.18,192.25 l9.64,9.82 M331.18,189.50 l9.64,9.82 M331.18,186.75 l9.64,9.82 M331.18,184.00 l9.64,9.82 M331.18,181.25 l9.64,9.82 M331.18,178.50 l9.64,9.82 M331.18,175.75 l9.64,9.82 M331.18,173.00 l9.64,9.82 M331.18,170.25 l9.64,9.82 M331.18,167.50 l9.64,9.82 M331.18,164.75 l9.64,9.82 M331.18,162.00 l9.64,9.82 M331.18,159.25 l9.64,9.82 M331.18,156.50 l9.64,9.82 M331.18,153.75 l9.64,9.82 M331.18,151.00 l9.64,9.82 M331.18,148.25 l9.64,9.82 M331.18,145.50 l9.64,9.82 M331.18,142.75 l9.64,9.82 M331.18,140.00 l9.64,9.82 M331.18,137.25 l9.64,9.82 M331.18,134.50 l9.64,9.82 M331.18,131.75 l9.64,9.82 M331.18,129.00 l9.64,9.82 M331.18,126.25 l9.64,9.82 M331.18,123.50 l9.64,9.82 M331.18,120.75 l9.64,9.82 M331.18,118.00 l9.64,9.82 M331.18,115.25 l9.64,9.82 M331.18,112.50 l9.64,9.82 M331.18,109.75 l9.64,9.82 M331.18,107.00 l9.64,9.82 M331.18,104.25 l9.64,9.82 M331.18,101.50 l9.64,9.82 M331.18,98.75 l9.64,9.82 M331.18,96.00 l9.64,9.82 M331.18,93.25 l9.64,9.82 M331.18,90.50 l9.64,9.82 M331.18,87.75 l9.64,9.82 M331.18,85.00 l9.64,9.82 M331.18,82.25 l9.64,9.82 M331.18,79.50 l9.64,9.82 M331.18,76.75 l9.64,9.82 M331.18,74.00 l9.64,9.82 M331.18,71.25 l9.64,9.82 M331.18,68.50 l9.64,9.82 M331.18,65.75 l9.64,9.82 M331.18,63.00 l9.64,9.82 M331.18,60.25 l9.64,9.82 M331.18,57.50 l9.64,9.82 M331.18,54.75 l9.64,9.82 M331.18,52.00 l9.64,9.82 M331.18,49.25 l9.64,9.82 M331.18,46.50 l9.64,9.82 M331.18,43.75 l9.64,9.82 M331.18,41.00 l9.64,9.82 M331.18,38.25 l9.64,9.82 M331.18,35.50 l9.64,9.82 M331.18,32.75 l9.64,9.82 M331.18,30.00 l9.64,9.82 M331.18,27.25 l9.64,9.82 M331.18,24.50 l9.64,9.82 M331.18,21.75 l9.64,9.82 M331.18,19.00 l9.64,9.82 M331.18,16.25 l9.64,9.82 M331.18,13.50 l9.64,9.82 M331.18,10.75 l9.64,9.82 " stroke="#000" stroke-width="0.55" fill="none"/></g></g>
<rect x="331.33" y="22.40" width="9.34" height="279.60" fill="none" stroke="#303030" stroke-width="0.95"/>
<rect x="340.97" y="22.40" width="9.34" height="279.60" fill="#fff" stroke="#303030" stroke-width="0.95"/>
<rect x="350.61" y="22.40" width="9.34" height="279.60" fill="url(#rmsea)" stroke="#303030" stroke-width="0.95"/>
<path d="M353.67,22.40 V302.00 M356.89,22.40 V302.00" stroke="#000" stroke-width="0.85"/>
<rect x="360.25" y="22.40" width="9.34" height="279.60" fill="url(#glasso)" stroke="#303030" stroke-width="0.95"/>
<rect x="369.89" y="22.40" width="9.34" height="279.60" fill="url(#tmfg_t2)" stroke="#303030" stroke-width="0.95"/>
<rect x="379.53" y="23.80" width="9.34" height="278.20" fill="url(#pa_t2)" stroke="#303030" stroke-width="0.95"/>
<rect x="389.17" y="29.96" width="9.34" height="272.04" fill="#fff" stroke="#303030" stroke-width="0.95"/>
<clipPath id="c_t28"><rect x="389.17" y="29.96" width="9.34" height="272.04"/></clipPath>
<g clip-path="url(#c_t28)"><g filter="url(#sharp_t)"><rect x="387.02" y="27.56" width="13.64" height="276.44" fill="#fff"/><path d="M389.02,316.00 l9.64,-9.82 M389.02,313.25 l9.64,-9.82 M389.02,310.50 l9.64,-9.82 M389.02,307.75 l9.64,-9.82 M389.02,305.00 l9.64,-9.82 M389.02,302.25 l9.64,-9.82 M389.02,299.50 l9.64,-9.82 M389.02,296.75 l9.64,-9.82 M389.02,294.00 l9.64,-9.82 M389.02,291.25 l9.64,-9.82 M389.02,288.50 l9.64,-9.82 M389.02,285.75 l9.64,-9.82 M389.02,283.00 l9.64,-9.82 M389.02,280.25 l9.64,-9.82 M389.02,277.50 l9.64,-9.82 M389.02,274.75 l9.64,-9.82 M389.02,272.00 l9.64,-9.82 M389.02,269.25 l9.64,-9.82 M389.02,266.50 l9.64,-9.82 M389.02,263.75 l9.64,-9.82 M389.02,261.00 l9.64,-9.82 M389.02,258.25 l9.64,-9.82 M389.02,255.50 l9.64,-9.82 M389.02,252.75 l9.64,-9.82 M389.02,250.00 l9.64,-9.82 M389.02,247.25 l9.64,-9.82 M389.02,244.50 l9.64,-9.82 M389.02,241.75 l9.64,-9.82 M389.02,239.00 l9.64,-9.82 M389.02,236.25 l9.64,-9.82 M389.02,233.50 l9.64,-9.82 M389.02,230.75 l9.64,-9.82 M389.02,228.00 l9.64,-9.82 M389.02,225.25 l9.64,-9.82 M389.02,222.50 l9.64,-9.82 M389.02,219.75 l9.64,-9.82 M389.02,217.00 l9.64,-9.82 M389.02,214.25 l9.64,-9.82 M389.02,211.50 l9.64,-9.82 M389.02,208.75 l9.64,-9.82 M389.02,206.00 l9.64,-9.82 M389.02,203.25 l9.64,-9.82 M389.02,200.50 l9.64,-9.82 M389.02,197.75 l9.64,-9.82 M389.02,195.00 l9.64,-9.82 M389.02,192.25 l9.64,-9.82 M389.02,189.50 l9.64,-9.82 M389.02,186.75 l9.64,-9.82 M389.02,184.00 l9.64,-9.82 M389.02,181.25 l9.64,-9.82 M389.02,178.50 l9.64,-9.82 M389.02,175.75 l9.64,-9.82 M389.02,173.00 l9.64,-9.82 M389.02,170.25 l9.64,-9.82 M389.02,167.50 l9.64,-9.82 M389.02,164.75 l9.64,-9.82 M389.02,162.00 l9.64,-9.82 M389.02,159.25 l9.64,-9.82 M389.02,156.50 l9.64,-9.82 M389.02,153.75 l9.64,-9.82 M389.02,151.00 l9.64,-9.82 M389.02,148.25 l9.64,-9.82 M389.02,145.50 l9.64,-9.82 M389.02,142.75 l9.64,-9.82 M389.02,140.00 l9.64,-9.82 M389.02,137.25 l9.64,-9.82 M389.02,134.50 l9.64,-9.82 M389.02,131.75 l9.64,-9.82 M389.02,129.00 l9.64,-9.82 M389.02,126.25 l9.64,-9.82 M389.02,123.50 l9.64,-9.82 M389.02,120.75 l9.64,-9.82 M389.02,118.00 l9.64,-9.82 M389.02,115.25 l9.64,-9.82 M389.02,112.50 l9.64,-9.82 M389.02,109.75 l9.64,-9.82 M389.02,107.00 l9.64,-9.82 M389.02,104.25 l9.64,-9.82 M389.02,101.50 l9.64,-9.82 M389.02,98.75 l9.64,-9.82 M389.02,96.00 l9.64,-9.82 M389.02,93.25 l9.64,-9.82 M389.02,90.50 l9.64,-9.82 M389.02,87.75 l9.64,-9.82 M389.02,85.00 l9.64,-9.82 M389.02,82.25 l9.64,-9.82 M389.02,79.50 l9.64,-9.82 M389.02,76.75 l9.64,-9.82 M389.02,74.00 l9.64,-9.82 M389.02,71.25 l9.64,-9.82 M389.02,68.50 l9.64,-9.82 M389.02,65.75 l9.64,-9.82 M389.02,63.00 l9.64,-9.82 M389.02,60.25 l9.64,-9.82 M389.02,57.50 l9.64,-9.82 M389.02,54.75 l9.64,-9.82 M389.02,52.00 l9.64,-9.82 M389.02,49.25 l9.64,-9.82 M389.02,46.50 l9.64,-9.82 M389.02,43.75 l9.64,-9.82 M389.02,41.00 l9.64,-9.82 M389.02,38.25 l9.64,-9.82 M389.02,35.50 l9.64,-9.82 M389.02,32.75 l9.64,-9.82 M389.02,30.00 l9.64,-9.82 M389.02,27.25 l9.64,-9.82 M389.02,24.50 l9.64,-9.82 M389.02,21.75 l9.64,-9.82 M389.02,19.00 l9.64,-9.82 M389.02,16.25 l9.64,-9.82 " stroke="#000" stroke-width="0.55" fill="none"/></g></g>
<rect x="389.17" y="29.96" width="9.34" height="272.04" fill="none" stroke="#303030" stroke-width="0.95"/>
<rect x="398.81" y="29.12" width="9.34" height="272.88" fill="url(#bnaive)" stroke="#303030" stroke-width="0.95"/>
<rect x="408.45" y="64.12" width="9.34" height="237.88" fill="url(#nest)" stroke="#303030" stroke-width="0.95"/>
<rect x="23.00" y="7.00" width="1" height="295.50" fill="#454545"/>
<rect x="23.00" y="301.55" width="414.00" height="1.1" fill="#0a0a0a"/>
<text x="20.2" y="305.90" font-size="7.6" text-anchor="end" fill="#262626">0.00</text>
<text x="20.2" y="249.90" font-size="7.6" text-anchor="end" fill="#262626">0.20</text>
<text x="20.2" y="193.90" font-size="7.6" text-anchor="end" fill="#262626">0.40</text>
<text x="20.2" y="137.90" font-size="7.6" text-anchor="end" fill="#262626">0.60</text>
<text x="20.2" y="81.90" font-size="7.6" text-anchor="end" fill="#262626">0.80</text>
<text x="20.2" y="25.90" font-size="7.6" text-anchor="end" fill="#262626">1.00</text>
<text x="97.50" y="317.50" font-size="11" text-anchor="middle" fill="#555">250</text>
<text x="231.50" y="317.50" font-size="11" text-anchor="middle" fill="#555">500</text>
<text x="365.00" y="317.50" font-size="11" text-anchor="middle" fill="#555">1000</text>
<text x="231.00" y="339.00" font-size="11" font-weight="bold" text-anchor="middle" fill="#111">Sample size</text>
<rect x="440.55" y="9.20" width="7.90" height="7.90" fill="#000"/>
<rect x="440.55" y="9.20" width="7.90" height="7.90" fill="none" stroke="#2a2a2a" stroke-width="0.8"/>
<text transform="translate(450.60,17.40) scale(0.905,1)" font-size="9.9" fill="#222">COV</text>
<rect x="440.55" y="20.83" width="7.90" height="7.90" fill="#fff"/>
<clipPath id="L_t1"><rect x="440.55" y="20.83" width="7.90" height="7.90"/></clipPath>
<path clip-path="url(#L_t1)" d="M440.15,20.43 h2.90 v2.90 h-2.90 z M440.15,26.23 h2.90 v2.90 h-2.90 z M443.05,23.33 h2.90 v2.90 h-2.90 z M445.95,20.43 h2.90 v2.90 h-2.90 z M445.95,26.23 h2.90 v2.90 h-2.90 z " fill="#000"/>
<rect x="440.55" y="20.83" width="7.90" height="7.90" fill="none" stroke="#2a2a2a" stroke-width="0.8"/>
<text transform="translate(450.60,29.03) scale(0.905,1)" font-size="9.9" fill="#222">VAR</text>
<rect x="440.55" y="32.46" width="7.90" height="7.90" fill="#fff"/>
<clipPath id="L_t2"><rect x="440.55" y="32.46" width="7.90" height="7.90"/></clipPath>
<path clip-path="url(#L_t2)" d="M439.55,20.26 l9.90,9.90 M439.55,23.21 l9.90,9.90 M439.55,26.16 l9.90,9.90 M439.55,29.11 l9.90,9.90 M439.55,32.06 l9.90,9.90 M439.55,35.01 l9.90,9.90 M439.55,37.96 l9.90,9.90 M439.55,40.91 l9.90,9.90 M439.55,43.86 l9.90,9.90 M439.55,46.81 l9.90,9.90 M439.55,49.76 l9.90,9.90 M439.55,52.71 l9.90,9.90 " stroke="#000" stroke-width="0.85" fill="none"/>
<rect x="440.55" y="32.46" width="7.90" height="7.90" fill="none" stroke="#2a2a2a" stroke-width="0.8"/>
<text transform="translate(450.60,40.66) scale(0.905,1)" font-size="9.9" fill="#222">MAP</text>
<rect x="440.55" y="44.09" width="7.90" height="7.90" fill="#fff"/>
<rect x="440.55" y="44.09" width="7.90" height="7.90" fill="none" stroke="#2a2a2a" stroke-width="0.8"/>
<text transform="translate(450.60,52.29) scale(0.905,1)" font-size="9.9" fill="#222">BIC</text>
<rect x="440.55" y="55.72" width="7.90" height="7.90" fill="#fff"/>
<path d="M443.18,55.72 v7.90 M445.82,55.72 v7.90 M440.55,58.35 h7.90 M440.55,60.99 h7.90" stroke="#000" stroke-width="0.9"/>
<rect x="440.55" y="55.72" width="7.90" height="7.90" fill="none" stroke="#2a2a2a" stroke-width="0.8"/>
<text transform="translate(450.60,63.92) scale(0.905,1)" font-size="9.9" fill="#222">RMSEA</text>
<rect x="440.55" y="67.35" width="7.90" height="7.90" fill="url(#glasso)"/>
<rect x="440.55" y="67.35" width="7.90" height="7.90" fill="none" stroke="#2a2a2a" stroke-width="0.8"/>
<text transform="translate(450.60,75.55) scale(0.905,1)" font-size="9.9" fill="#222">GLASSO</text>
<rect x="440.55" y="78.98" width="7.90" height="7.90" fill="url(#tmfg_tL)"/>
<rect x="440.55" y="78.98" width="7.90" height="7.90" fill="none" stroke="#2a2a2a" stroke-width="0.8"/>
<text transform="translate(450.60,87.18) scale(0.905,1)" font-size="9.9" fill="#222">TMFG</text>
<rect x="440.55" y="90.61" width="7.90" height="7.90" fill="url(#pa_tL)"/>
<rect x="440.55" y="90.61" width="7.90" height="7.90" fill="none" stroke="#2a2a2a" stroke-width="0.8"/>
<text transform="translate(450.60,98.81) scale(0.905,1)" font-size="9.9" fill="#222">PA</text>
<rect x="440.55" y="102.24" width="7.90" height="7.90" fill="#fff"/>
<clipPath id="L_t8"><rect x="440.55" y="102.24" width="7.90" height="7.90"/></clipPath>
<path clip-path="url(#L_t8)" d="M439.55,92.64 l9.90,-9.90 M439.55,95.59 l9.90,-9.90 M439.55,98.54 l9.90,-9.90 M439.55,101.49 l9.90,-9.90 M439.55,104.44 l9.90,-9.90 M439.55,107.39 l9.90,-9.90 M439.55,110.34 l9.90,-9.90 M439.55,113.29 l9.90,-9.90 M439.55,116.24 l9.90,-9.90 M439.55,119.19 l9.90,-9.90 M439.55,122.14 l9.90,-9.90 M439.55,125.09 l9.90,-9.90 " stroke="#000" stroke-width="0.85" fill="none"/>
<rect x="440.55" y="102.24" width="7.90" height="7.90" fill="none" stroke="#2a2a2a" stroke-width="0.8"/>
<text transform="translate(450.60,110.44) scale(0.905,1)" font-size="9.9" fill="#222">BAYES INFORMATIVE</text>
<rect x="440.55" y="113.87" width="7.90" height="7.90" fill="#fff"/>
<path d="M440.55,116.00 h7.90 M440.55,117.98 h7.90 M440.55,119.95 h7.90" stroke="#000" stroke-width="0.7"/>
<rect x="440.55" y="113.87" width="7.90" height="7.90" fill="none" stroke="#2a2a2a" stroke-width="0.8"/>
<text transform="translate(450.60,122.07) scale(0.905,1)" font-size="9.9" fill="#222">BAYES NAIVE</text>
<rect x="440.55" y="125.50" width="7.90" height="7.90" fill="#fff"/>
<path d="M440.55,129.61 h7.90" stroke="#000" stroke-width="0.85"/>
<rect x="440.55" y="125.50" width="7.90" height="7.90" fill="none" stroke="#2a2a2a" stroke-width="0.8"/>
<text transform="translate(450.60,133.70) scale(0.905,1)" font-size="9.9" fill="#222">NEST</text>
<rect x="23.50" y="591.70" width="413.50" height="1" fill="#a2a2a2"/>
<rect x="23.50" y="535.70" width="413.50" height="1" fill="#a2a2a2"/>
<rect x="23.50" y="479.70" width="413.50" height="1" fill="#a2a2a2"/>
<rect x="23.50" y="423.70" width="413.50" height="1" fill="#a2a2a2"/>
<rect x="23.50" y="367.70" width="413.50" height="1" fill="#a2a2a2"/>
<rect x="46.20" y="405.52" width="13.38" height="242.48" fill="#000"/>
<rect x="60.18" y="403.68" width="14.03" height="244.32" fill="url(#var)" stroke="#303030" stroke-width="0.95"/>
<rect x="74.51" y="368.40" width="14.03" height="279.60" fill="#fff" stroke="#303030" stroke-width="0.95"/>
<clipPath id="c_b02"><rect x="74.51" y="368.40" width="14.03" height="279.60"/></clipPath>
<g clip-path="url(#c_b02)"><g filter="url(#sharp_b)"><rect x="72.36" y="366.00" width="18.33" height="284.00" fill="#fff"/><path d="M74.36,662.00 l14.33,12.13 M74.36,659.25 l14.33,12.13 M74.36,656.50 l14.33,12.13 M74.36,653.75 l14.33,12.13 M74.36,651.00 l14.33,12.13 M74.36,648.25 l14.33,12.13 M74.36,645.50 l14.33,12.13 M74.36,642.75 l14.33,12.13 M74.36,640.00 l14.33,12.13 M74.36,637.25 l14.33,12.13 M74.36,634.50 l14.33,12.13 M74.36,631.75 l14.33,12.13 M74.36,629.00 l14.33,12.13 M74.36,626.25 l14.33,12.13 M74.36,623.50 l14.33,12.13 M74.36,620.75 l14.33,12.13 M74.36,618.00 l14.33,12.13 M74.36,615.25 l14.33,12.13 M74.36,612.50 l14.33,12.13 M74.36,609.75 l14.33,12.13 M74.36,607.00 l14.33,12.13 M74.36,604.25 l14.33,12.13 M74.36,601.50 l14.33,12.13 M74.36,598.75 l14.33,12.13 M74.36,596.00 l14.33,12.13 M74.36,593.25 l14.33,12.13 M74.36,590.50 l14.33,12.13 M74.36,587.75 l14.33,12.13 M74.36,585.00 l14.33,12.13 M74.36,582.25 l14.33,12.13 M74.36,579.50 l14.33,12.13 M74.36,576.75 l14.33,12.13 M74.36,574.00 l14.33,12.13 M74.36,571.25 l14.33,12.13 M74.36,568.50 l14.33,12.13 M74.36,565.75 l14.33,12.13 M74.36,563.00 l14.33,12.13 M74.36,560.25 l14.33,12.13 M74.36,557.50 l14.33,12.13 M74.36,554.75 l14.33,12.13 M74.36,552.00 l14.33,12.13 M74.36,549.25 l14.33,12.13 M74.36,546.50 l14.33,12.13 M74.36,543.75 l14.33,12.13 M74.36,541.00 l14.33,12.13 M74.36,538.25 l14.33,12.13 M74.36,535.50 l14.33,12.13 M74.36,532.75 l14.33,12.13 M74.36,530.00 l14.33,12.13 M74.36,527.25 l14.33,12.13 M74.36,524.50 l14.33,12.13 M74.36,521.75 l14.33,12.13 M74.36,519.00 l14.33,12.13 M74.36,516.25 l14.33,12.13 M74.36,513.50 l14.33,12.13 M74.36,510.75 l14.33,12.13 M74.36,508.00 l14.33,12.13 M74.36,505.25 l14.33,12.13 M74.36,502.50 l14.33,12.13 M74.36,499.75 l14.33,12.13 M74.36,497.00 l14.33,12.13 M74.36,494.25 l14.33,12.13 M74.36,491.50 l14.33,12.13 M74.36,488.75 l14.33,12.13 M74.36,486.00 l14.33,12.13 M74.36,483.25 l14.33,12.13 M74.36,480.50 l14.33,12.13 M74.36,477.75 l14.33,12.13 M74.36,475.00 l14.33,12.13 M74.36,472.25 l14.33,12.13 M74.36,469.50 l14.33,12.13 M74.36,466.75 l14.33,12.13 M74.36,464.00 l14.33,12.13 M74.36,461.25 l14.33,12.13 M74.36,458.50 l14.33,12.13 M74.36,455.75 l14.33,12.13 M74.36,453.00 l14.33,12.13 M74.36,450.25 l14.33,12.13 M74.36,447.50 l14.33,12.13 M74.36,444.75 l14.33,12.13 M74.36,442.00 l14.33,12.13 M74.36,439.25 l14.33,12.13 M74.36,436.50 l14.33,12.13 M74.36,433.75 l14.33,12.13 M74.36,431.00 l14.33,12.13 M74.36,428.25 l14.33,12.13 M74.36,425.50 l14.33,12.13 M74.36,422.75 l14.33,12.13 M74.36,420.00 l14.33,12.13 M74.36,417.25 l14.33,12.13 M74.36,414.50 l14.33,12.13 M74.36,411.75 l14.33,12.13 M74.36,409.00 l14.33,12.13 M74.36,406.25 l14.33,12.13 M74.36,403.50 l14.33,12.13 M74.36,400.75 l14.33,12.13 M74.36,398.00 l14.33,12.13 M74.36,395.25 l14.33,12.13 M74.36,392.50 l14.33,12.13 M74.36,389.75 l14.33,12.13 M74.36,387.00 l14.33,12.13 M74.36,384.25 l14.33,12.13 M74.36,381.50 l14.33,12.13 M74.36,378.75 l14.33,12.13 M74.36,376.00 l14.33,12.13 M74.36,373.25 l14.33,12.13 M74.36,370.50 l14.33,12.13 M74.36,367.75 l14.33,12.13 M74.36,365.00 l14.33,12.13 M74.36,362.25 l14.33,12.13 M74.36,359.50 l14.33,12.13 M74.36,356.75 l14.33,12.13 " stroke="#000" stroke-width="0.70" fill="none"/></g></g>
<rect x="74.51" y="368.40" width="14.03" height="279.60" fill="none" stroke="#303030" stroke-width="0.95"/>
<rect x="88.84" y="368.40" width="14.03" height="279.60" fill="#fff" stroke="#303030" stroke-width="0.95"/>
<rect x="103.17" y="386.88" width="14.03" height="261.12" fill="url(#rmsea)" stroke="#303030" stroke-width="0.95"/>
<path d="M107.80,386.88 V648.00 M112.57,386.88 V648.00" stroke="#000" stroke-width="0.85"/>
<rect x="117.50" y="368.40" width="14.03" height="279.60" fill="url(#glasso)" stroke="#303030" stroke-width="0.95"/>
<rect x="131.83" y="368.40" width="14.03" height="279.60" fill="url(#tmfg_b0)" stroke="#303030" stroke-width="0.95"/>
<rect x="146.16" y="368.68" width="14.03" height="279.32" fill="url(#pa_b0)" stroke="#303030" stroke-width="0.95"/>
<rect x="160.49" y="370.08" width="14.03" height="277.92" fill="#fff" stroke="#303030" stroke-width="0.95"/>
<clipPath id="c_b08"><rect x="160.49" y="370.08" width="14.03" height="277.92"/></clipPath>
<g clip-path="url(#c_b08)"><g filter="url(#sharp_b)"><rect x="158.34" y="367.68" width="18.33" height="282.32" fill="#fff"/><path d="M160.34,662.00 l14.33,-12.13 M160.34,659.25 l14.33,-12.13 M160.34,656.50 l14.33,-12.13 M160.34,653.75 l14.33,-12.13 M160.34,651.00 l14.33,-12.13 M160.34,648.25 l14.33,-12.13 M160.34,645.50 l14.33,-12.13 M160.34,642.75 l14.33,-12.13 M160.34,640.00 l14.33,-12.13 M160.34,637.25 l14.33,-12.13 M160.34,634.50 l14.33,-12.13 M160.34,631.75 l14.33,-12.13 M160.34,629.00 l14.33,-12.13 M160.34,626.25 l14.33,-12.13 M160.34,623.50 l14.33,-12.13 M160.34,620.75 l14.33,-12.13 M160.34,618.00 l14.33,-12.13 M160.34,615.25 l14.33,-12.13 M160.34,612.50 l14.33,-12.13 M160.34,609.75 l14.33,-12.13 M160.34,607.00 l14.33,-12.13 M160.34,604.25 l14.33,-12.13 M160.34,601.50 l14.33,-12.13 M160.34,598.75 l14.33,-12.13 M160.34,596.00 l14.33,-12.13 M160.34,593.25 l14.33,-12.13 M160.34,590.50 l14.33,-12.13 M160.34,587.75 l14.33,-12.13 M160.34,585.00 l14.33,-12.13 M160.34,582.25 l14.33,-12.13 M160.34,579.50 l14.33,-12.13 M160.34,576.75 l14.33,-12.13 M160.34,574.00 l14.33,-12.13 M160.34,571.25 l14.33,-12.13 M160.34,568.50 l14.33,-12.13 M160.34,565.75 l14.33,-12.13 M160.34,563.00 l14.33,-12.13 M160.34,560.25 l14.33,-12.13 M160.34,557.50 l14.33,-12.13 M160.34,554.75 l14.33,-12.13 M160.34,552.00 l14.33,-12.13 M160.34,549.25 l14.33,-12.13 M160.34,546.50 l14.33,-12.13 M160.34,543.75 l14.33,-12.13 M160.34,541.00 l14.33,-12.13 M160.34,538.25 l14.33,-12.13 M160.34,535.50 l14.33,-12.13 M160.34,532.75 l14.33,-12.13 M160.34,530.00 l14.33,-12.13 M160.34,527.25 l14.33,-12.13 M160.34,524.50 l14.33,-12.13 M160.34,521.75 l14.33,-12.13 M160.34,519.00 l14.33,-12.13 M160.34,516.25 l14.33,-12.13 M160.34,513.50 l14.33,-12.13 M160.34,510.75 l14.33,-12.13 M160.34,508.00 l14.33,-12.13 M160.34,505.25 l14.33,-12.13 M160.34,502.50 l14.33,-12.13 M160.34,499.75 l14.33,-12.13 M160.34,497.00 l14.33,-12.13 M160.34,494.25 l14.33,-12.13 M160.34,491.50 l14.33,-12.13 M160.34,488.75 l14.33,-12.13 M160.34,486.00 l14.33,-12.13 M160.34,483.25 l14.33,-12.13 M160.34,480.50 l14.33,-12.13 M160.34,477.75 l14.33,-12.13 M160.34,475.00 l14.33,-12.13 M160.34,472.25 l14.33,-12.13 M160.34,469.50 l14.33,-12.13 M160.34,466.75 l14.33,-12.13 M160.34,464.00 l14.33,-12.13 M160.34,461.25 l14.33,-12.13 M160.34,458.50 l14.33,-12.13 M160.34,455.75 l14.33,-12.13 M160.34,453.00 l14.33,-12.13 M160.34,450.25 l14.33,-12.13 M160.34,447.50 l14.33,-12.13 M160.34,444.75 l14.33,-12.13 M160.34,442.00 l14.33,-12.13 M160.34,439.25 l14.33,-12.13 M160.34,436.50 l14.33,-12.13 M160.34,433.75 l14.33,-12.13 M160.34,431.00 l14.33,-12.13 M160.34,428.25 l14.33,-12.13 M160.34,425.50 l14.33,-12.13 M160.34,422.75 l14.33,-12.13 M160.34,420.00 l14.33,-12.13 M160.34,417.25 l14.33,-12.13 M160.34,414.50 l14.33,-12.13 M160.34,411.75 l14.33,-12.13 M160.34,409.00 l14.33,-12.13 M160.34,406.25 l14.33,-12.13 M160.34,403.50 l14.33,-12.13 M160.34,400.75 l14.33,-12.13 M160.34,398.00 l14.33,-12.13 M160.34,395.25 l14.33,-12.13 M160.34,392.50 l14.33,-12.13 M160.34,389.75 l14.33,-12.13 M160.34,387.00 l14.33,-12.13 M160.34,384.25 l14.33,-12.13 M160.34,381.50 l14.33,-12.13 M160.34,378.75 l14.33,-12.13 M160.34,376.00 l14.33,-12.13 M160.34,373.25 l14.33,-12.13 M160.34,370.50 l14.33,-12.13 M160.34,367.75 l14.33,-12.13 M160.34,365.00 l14.33,-12.13 M160.34,362.25 l14.33,-12.13 M160.34,359.50 l14.33,-12.13 M160.34,356.75 l14.33,-12.13 " stroke="#000" stroke-width="0.70" fill="none"/></g></g>
<rect x="160.49" y="370.08" width="14.03" height="277.92" fill="none" stroke="#303030" stroke-width="0.95"/>
<rect x="174.82" y="370.36" width="14.03" height="277.64" fill="url(#bnaive)" stroke="#303030" stroke-width="0.95"/>
<rect x="189.15" y="375.96" width="14.03" height="272.04" fill="url(#nest)" stroke="#303030" stroke-width="0.95"/>
<rect x="260.60" y="378.08" width="13.38" height="269.92" fill="#000"/>
<rect x="274.58" y="393.32" width="14.03" height="254.68" fill="url(#var)" stroke="#303030" stroke-width="0.95"/>
<rect x="288.91" y="368.40" width="14.03" height="279.60" fill="#fff" stroke="#303030" stroke-width="0.95"/>
<clipPath id="c_b12"><rect x="288.91" y="368.40" width="14.03" height="279.60"/></clipPath>
<g clip-path="url(#c_b12)"><g filter="url(#sharp_b)"><rect x="286.76" y="366.00" width="18.33" height="284.00" fill="#fff"/><path d="M288.76,662.00 l14.33,12.13 M288.76,659.25 l14.33,12.13 M288.76,656.50 l14.33,12.13 M288.76,653.75 l14.33,12.13 M288.76,651.00 l14.33,12.13 M288.76,648.25 l14.33,12.13 M288.76,645.50 l14.33,12.13 M288.76,642.75 l14.33,12.13 M288.76,640.00 l14.33,12.13 M288.76,637.25 l14.33,12.13 M288.76,634.50 l14.33,12.13 M288.76,631.75 l14.33,12.13 M288.76,629.00 l14.33,12.13 M288.76,626.25 l14.33,12.13 M288.76,623.50 l14.33,12.13 M288.76,620.75 l14.33,12.13 M288.76,618.00 l14.33,12.13 M288.76,615.25 l14.33,12.13 M288.76,612.50 l14.33,12.13 M288.76,609.75 l14.33,12.13 M288.76,607.00 l14.33,12.13 M288.76,604.25 l14.33,12.13 M288.76,601.50 l14.33,12.13 M288.76,598.75 l14.33,12.13 M288.76,596.00 l14.33,12.13 M288.76,593.25 l14.33,12.13 M288.76,590.50 l14.33,12.13 M288.76,587.75 l14.33,12.13 M288.76,585.00 l14.33,12.13 M288.76,582.25 l14.33,12.13 M288.76,579.50 l14.33,12.13 M288.76,576.75 l14.33,12.13 M288.76,574.00 l14.33,12.13 M288.76,571.25 l14.33,12.13 M288.76,568.50 l14.33,12.13 M288.76,565.75 l14.33,12.13 M288.76,563.00 l14.33,12.13 M288.76,560.25 l14.33,12.13 M288.76,557.50 l14.33,12.13 M288.76,554.75 l14.33,12.13 M288.76,552.00 l14.33,12.13 M288.76,549.25 l14.33,12.13 M288.76,546.50 l14.33,12.13 M288.76,543.75 l14.33,12.13 M288.76,541.00 l14.33,12.13 M288.76,538.25 l14.33,12.13 M288.76,535.50 l14.33,12.13 M288.76,532.75 l14.33,12.13 M288.76,530.00 l14.33,12.13 M288.76,527.25 l14.33,12.13 M288.76,524.50 l14.33,12.13 M288.76,521.75 l14.33,12.13 M288.76,519.00 l14.33,12.13 M288.76,516.25 l14.33,12.13 M288.76,513.50 l14.33,12.13 M288.76,510.75 l14.33,12.13 M288.76,508.00 l14.33,12.13 M288.76,505.25 l14.33,12.13 M288.76,502.50 l14.33,12.13 M288.76,499.75 l14.33,12.13 M288.76,497.00 l14.33,12.13 M288.76,494.25 l14.33,12.13 M288.76,491.50 l14.33,12.13 M288.76,488.75 l14.33,12.13 M288.76,486.00 l14.33,12.13 M288.76,483.25 l14.33,12.13 M288.76,480.50 l14.33,12.13 M288.76,477.75 l14.33,12.13 M288.76,475.00 l14.33,12.13 M288.76,472.25 l14.33,12.13 M288.76,469.50 l14.33,12.13 M288.76,466.75 l14.33,12.13 M288.76,464.00 l14.33,12.13 M288.76,461.25 l14.33,12.13 M288.76,458.50 l14.33,12.13 M288.76,455.75 l14.33,12.13 M288.76,453.00 l14.33,12.13 M288.76,450.25 l14.33,12.13 M288.76,447.50 l14.33,12.13 M288.76,444.75 l14.33,12.13 M288.76,442.00 l14.33,12.13 M288.76,439.25 l14.33,12.13 M288.76,436.50 l14.33,12.13 M288.76,433.75 l14.33,12.13 M288.76,431.00 l14.33,12.13 M288.76,428.25 l14.33,12.13 M288.76,425.50 l14.33,12.13 M288.76,422.75 l14.33,12.13 M288.76,420.00 l14.33,12.13 M288.76,417.25 l14.33,12.13 M288.76,414.50 l14.33,12.13 M288.76,411.75 l14.33,12.13 M288.76,409.00 l14.33,12.13 M288.76,406.25 l14.33,12.13 M288.76,403.50 l14.33,12.13 M288.76,400.75 l14.33,12.13 M288.76,398.00 l14.33,12.13 M288.76,395.25 l14.33,12.13 M288.76,392.50 l14.33,12.13 M288.76,389.75 l14.33,12.13 M288.76,387.00 l14.33,12.13 M288.76,384.25 l14.33,12.13 M288.76,381.50 l14.33,12.13 M288.76,378.75 l14.33,12.13 M288.76,376.00 l14.33,12.13 M288.76,373.25 l14.33,12.13 M288.76,370.50 l14.33,12.13 M288.76,367.75 l14.33,12.13 M288.76,365.00 l14.33,12.13 M288.76,362.25 l14.33,12.13 M288.76,359.50 l14.33,12.13 M288.76,356.75 l14.33,12.13 " stroke="#000" stroke-width="0.70" fill="none"/></g></g>
<rect x="288.91" y="368.40" width="14.03" height="279.60" fill="none" stroke="#303030" stroke-width="0.95"/>
<rect x="303.24" y="368.40" width="14.03" height="279.60" fill="#fff" stroke="#303030" stroke-width="0.95"/>
<rect x="317.57" y="371.76" width="14.03" height="276.24" fill="url(#rmsea)" stroke="#303030" stroke-width="0.95"/>
<path d="M322.20,371.76 V648.00 M326.97,371.76 V648.00" stroke="#000" stroke-width="0.85"/>
<rect x="331.90" y="381.84" width="14.03" height="266.16" fill="url(#glasso)" stroke="#303030" stroke-width="0.95"/>
<rect x="346.23" y="382.40" width="14.03" height="265.60" fill="url(#tmfg_b1)" stroke="#303030" stroke-width="0.95"/>
<rect x="360.56" y="375.96" width="14.03" height="272.04" fill="url(#pa_b1)" stroke="#303030" stroke-width="0.95"/>
<rect x="374.89" y="372.32" width="14.03" height="275.68" fill="#fff" stroke="#303030" stroke-width="0.95"/>
<clipPath id="c_b18"><rect x="374.89" y="372.32" width="14.03" height="275.68"/></clipPath>
<g clip-path="url(#c_b18)"><g filter="url(#sharp_b)"><rect x="372.74" y="369.92" width="18.33" height="280.08" fill="#fff"/><path d="M374.74,662.00 l14.33,-12.13 M374.74,659.25 l14.33,-12.13 M374.74,656.50 l14.33,-12.13 M374.74,653.75 l14.33,-12.13 M374.74,651.00 l14.33,-12.13 M374.74,648.25 l14.33,-12.13 M374.74,645.50 l14.33,-12.13 M374.74,642.75 l14.33,-12.13 M374.74,640.00 l14.33,-12.13 M374.74,637.25 l14.33,-12.13 M374.74,634.50 l14.33,-12.13 M374.74,631.75 l14.33,-12.13 M374.74,629.00 l14.33,-12.13 M374.74,626.25 l14.33,-12.13 M374.74,623.50 l14.33,-12.13 M374.74,620.75 l14.33,-12.13 M374.74,618.00 l14.33,-12.13 M374.74,615.25 l14.33,-12.13 M374.74,612.50 l14.33,-12.13 M374.74,609.75 l14.33,-12.13 M374.74,607.00 l14.33,-12.13 M374.74,604.25 l14.33,-12.13 M374.74,601.50 l14.33,-12.13 M374.74,598.75 l14.33,-12.13 M374.74,596.00 l14.33,-12.13 M374.74,593.25 l14.33,-12.13 M374.74,590.50 l14.33,-12.13 M374.74,587.75 l14.33,-12.13 M374.74,585.00 l14.33,-12.13 M374.74,582.25 l14.33,-12.13 M374.74,579.50 l14.33,-12.13 M374.74,576.75 l14.33,-12.13 M374.74,574.00 l14.33,-12.13 M374.74,571.25 l14.33,-12.13 M374.74,568.50 l14.33,-12.13 M374.74,565.75 l14.33,-12.13 M374.74,563.00 l14.33,-12.13 M374.74,560.25 l14.33,-12.13 M374.74,557.50 l14.33,-12.13 M374.74,554.75 l14.33,-12.13 M374.74,552.00 l14.33,-12.13 M374.74,549.25 l14.33,-12.13 M374.74,546.50 l14.33,-12.13 M374.74,543.75 l14.33,-12.13 M374.74,541.00 l14.33,-12.13 M374.74,538.25 l14.33,-12.13 M374.74,535.50 l14.33,-12.13 M374.74,532.75 l14.33,-12.13 M374.74,530.00 l14.33,-12.13 M374.74,527.25 l14.33,-12.13 M374.74,524.50 l14.33,-12.13 M374.74,521.75 l14.33,-12.13 M374.74,519.00 l14.33,-12.13 M374.74,516.25 l14.33,-12.13 M374.74,513.50 l14.33,-12.13 M374.74,510.75 l14.33,-12.13 M374.74,508.00 l14.33,-12.13 M374.74,505.25 l14.33,-12.13 M374.74,502.50 l14.33,-12.13 M374.74,499.75 l14.33,-12.13 M374.74,497.00 l14.33,-12.13 M374.74,494.25 l14.33,-12.13 M374.74,491.50 l14.33,-12.13 M374.74,488.75 l14.33,-12.13 M374.74,486.00 l14.33,-12.13 M374.74,483.25 l14.33,-12.13 M374.74,480.50 l14.33,-12.13 M374.74,477.75 l14.33,-12.13 M374.74,475.00 l14.33,-12.13 M374.74,472.25 l14.33,-12.13 M374.74,469.50 l14.33,-12.13 M374.74,466.75 l14.33,-12.13 M374.74,464.00 l14.33,-12.13 M374.74,461.25 l14.33,-12.13 M374.74,458.50 l14.33,-12.13 M374.74,455.75 l14.33,-12.13 M374.74,453.00 l14.33,-12.13 M374.74,450.25 l14.33,-12.13 M374.74,447.50 l14.33,-12.13 M374.74,444.75 l14.33,-12.13 M374.74,442.00 l14.33,-12.13 M374.74,439.25 l14.33,-12.13 M374.74,436.50 l14.33,-12.13 M374.74,433.75 l14.33,-12.13 M374.74,431.00 l14.33,-12.13 M374.74,428.25 l14.33,-12.13 M374.74,425.50 l14.33,-12.13 M374.74,422.75 l14.33,-12.13 M374.74,420.00 l14.33,-12.13 M374.74,417.25 l14.33,-12.13 M374.74,414.50 l14.33,-12.13 M374.74,411.75 l14.33,-12.13 M374.74,409.00 l14.33,-12.13 M374.74,406.25 l14.33,-12.13 M374.74,403.50 l14.33,-12.13 M374.74,400.75 l14.33,-12.13 M374.74,398.00 l14.33,-12.13 M374.74,395.25 l14.33,-12.13 M374.74,392.50 l14.33,-12.13 M374.74,389.75 l14.33,-12.13 M374.74,387.00 l14.33,-12.13 M374.74,384.25 l14.33,-12.13 M374.74,381.50 l14.33,-12.13 M374.74,378.75 l14.33,-12.13 M374.74,376.00 l14.33,-12.13 M374.74,373.25 l14.33,-12.13 M374.74,370.50 l14.33,-12.13 M374.74,367.75 l14.33,-12.13 M374.74,365.00 l14.33,-12.13 M374.74,362.25 l14.33,-12.13 M374.74,359.50 l14.33,-12.13 " stroke="#000" stroke-width="0.70" fill="none"/></g></g>
<rect x="374.89" y="372.32" width="14.03" height="275.68" fill="none" stroke="#303030" stroke-width="0.95"/>
<rect x="389.22" y="372.32" width="14.03" height="275.68" fill="url(#bnaive)" stroke="#303030" stroke-width="0.95"/>
<rect x="403.55" y="432.52" width="14.03" height="215.48" fill="url(#nest)" stroke="#303030" stroke-width="0.95"/>
<rect x="23.00" y="352.40" width="1" height="296.10" fill="#454545"/>
<rect x="23.00" y="647.55" width="414.00" height="1.1" fill="#0a0a0a"/>
<text x="20.2" y="651.90" font-size="7.6" text-anchor="end" fill="#262626">0.00</text>
<text x="20.2" y="595.90" font-size="7.6" text-anchor="end" fill="#262626">0.20</text>
<text x="20.2" y="539.90" font-size="7.6" text-anchor="end" fill="#262626">0.40</text>
<text x="20.2" y="483.90" font-size="7.6" text-anchor="end" fill="#262626">0.60</text>
<text x="20.2" y="427.90" font-size="7.6" text-anchor="end" fill="#262626">0.80</text>
<text x="20.2" y="371.90" font-size="7.6" text-anchor="end" fill="#262626">1.00</text>
<text x="124.20" y="663.00" font-size="11" text-anchor="middle" fill="#555">6</text>
<text x="340.00" y="663.00" font-size="11" text-anchor="middle" fill="#555">12</text>
<text x="231.40" y="685.30" font-size="11" font-weight="bold" text-anchor="middle" fill="#111">Number of indicators</text>
<rect x="441.10" y="354.80" width="7.90" height="7.90" fill="#000"/>
<rect x="441.10" y="354.80" width="7.90" height="7.90" fill="none" stroke="#2a2a2a" stroke-width="0.8"/>
<text transform="translate(451.30,363.00) scale(0.905,1)" font-size="9.9" fill="#222">COV</text>
<rect x="441.10" y="366.43" width="7.90" height="7.90" fill="#fff"/>
<clipPath id="L_b1"><rect x="441.10" y="366.43" width="7.90" height="7.90"/></clipPath>
<path clip-path="url(#L_b1)" d="M440.70,366.03 h2.90 v2.90 h-2.90 z M440.70,371.83 h2.90 v2.90 h-2.90 z M443.60,368.93 h2.90 v2.90 h-2.90 z M446.50,366.03 h2.90 v2.90 h-2.90 z M446.50,371.83 h2.90 v2.90 h-2.90 z " fill="#000"/>
<rect x="441.10" y="366.43" width="7.90" height="7.90" fill="none" stroke="#2a2a2a" stroke-width="0.8"/>
<text transform="translate(451.30,374.63) scale(0.905,1)" font-size="9.9" fill="#222">VAR</text>
<rect x="441.10" y="378.06" width="7.90" height="7.90" fill="#fff"/>
<clipPath id="L_b2"><rect x="441.10" y="378.06" width="7.90" height="7.90"/></clipPath>
<path clip-path="url(#L_b2)" d="M440.10,365.86 l9.90,9.90 M440.10,368.81 l9.90,9.90 M440.10,371.76 l9.90,9.90 M440.10,374.71 l9.90,9.90 M440.10,377.66 l9.90,9.90 M440.10,380.61 l9.90,9.90 M440.10,383.56 l9.90,9.90 M440.10,386.51 l9.90,9.90 M440.10,389.46 l9.90,9.90 M440.10,392.41 l9.90,9.90 M440.10,395.36 l9.90,9.90 M440.10,398.31 l9.90,9.90 " stroke="#000" stroke-width="0.85" fill="none"/>
<rect x="441.10" y="378.06" width="7.90" height="7.90" fill="none" stroke="#2a2a2a" stroke-width="0.8"/>
<text transform="translate(451.30,386.26) scale(0.905,1)" font-size="9.9" fill="#222">MAP</text>
<rect x="441.10" y="389.69" width="7.90" height="7.90" fill="#fff"/>
<rect x="441.10" y="389.69" width="7.90" height="7.90" fill="none" stroke="#2a2a2a" stroke-width="0.8"/>
<text transform="translate(451.30,397.89) scale(0.905,1)" font-size="9.9" fill="#222">BIC</text>
<rect x="441.10" y="401.32" width="7.90" height="7.90" fill="#fff"/>
<path d="M443.73,401.32 v7.90 M446.37,401.32 v7.90 M441.10,403.95 h7.90 M441.10,406.59 h7.90" stroke="#000" stroke-width="0.9"/>
<rect x="441.10" y="401.32" width="7.90" height="7.90" fill="none" stroke="#2a2a2a" stroke-width="0.8"/>
<text transform="translate(451.30,409.52) scale(0.905,1)" font-size="9.9" fill="#222">RMSEA</text>
<rect x="441.10" y="412.95" width="7.90" height="7.90" fill="url(#glasso)"/>
<rect x="441.10" y="412.95" width="7.90" height="7.90" fill="none" stroke="#2a2a2a" stroke-width="0.8"/>
<text transform="translate(451.30,421.15) scale(0.905,1)" font-size="9.9" fill="#222">GLASSO</text>
<rect x="441.10" y="424.58" width="7.90" height="7.90" fill="url(#tmfg_bL)"/>
<rect x="441.10" y="424.58" width="7.90" height="7.90" fill="none" stroke="#2a2a2a" stroke-width="0.8"/>
<text transform="translate(451.30,432.78) scale(0.905,1)" font-size="9.9" fill="#222">TMFG</text>
<rect x="441.10" y="436.21" width="7.90" height="7.90" fill="url(#pa_bL)"/>
<rect x="441.10" y="436.21" width="7.90" height="7.90" fill="none" stroke="#2a2a2a" stroke-width="0.8"/>
<text transform="translate(451.30,444.41) scale(0.905,1)" font-size="9.9" fill="#222">PA</text>
<rect x="441.10" y="447.84" width="7.90" height="7.90" fill="#fff"/>
<clipPath id="L_b8"><rect x="441.10" y="447.84" width="7.90" height="7.90"/></clipPath>
<path clip-path="url(#L_b8)" d="M440.10,438.24 l9.90,-9.90 M440.10,441.19 l9.90,-9.90 M440.10,444.14 l9.90,-9.90 M440.10,447.09 l9.90,-9.90 M440.10,450.04 l9.90,-9.90 M440.10,452.99 l9.90,-9.90 M440.10,455.94 l9.90,-9.90 M440.10,458.89 l9.90,-9.90 M440.10,461.84 l9.90,-9.90 M440.10,464.79 l9.90,-9.90 M440.10,467.74 l9.90,-9.90 M440.10,470.69 l9.90,-9.90 " stroke="#000" stroke-width="0.85" fill="none"/>
<rect x="441.10" y="447.84" width="7.90" height="7.90" fill="none" stroke="#2a2a2a" stroke-width="0.8"/>
<text transform="translate(451.30,456.04) scale(0.905,1)" font-size="9.9" fill="#222">BAYES INFORMATIVE</text>
<rect x="441.10" y="459.47" width="7.90" height="7.90" fill="#fff"/>
<path d="M441.10,461.60 h7.90 M441.10,463.58 h7.90 M441.10,465.55 h7.90" stroke="#000" stroke-width="0.7"/>
<rect x="441.10" y="459.47" width="7.90" height="7.90" fill="none" stroke="#2a2a2a" stroke-width="0.8"/>
<text transform="translate(451.30,467.67) scale(0.905,1)" font-size="9.9" fill="#222">BAYES NAIVE</text>
<rect x="441.10" y="471.10" width="7.90" height="7.90" fill="#fff"/>
<path d="M441.10,475.21 h7.90" stroke="#000" stroke-width="0.85"/>
<rect x="441.10" y="471.10" width="7.90" height="7.90" fill="none" stroke="#2a2a2a" stroke-width="0.8"/>
<text transform="translate(451.30,479.30) scale(0.905,1)" font-size="9.9" fill="#222">NEST</text>
</svg>
</body></html>
